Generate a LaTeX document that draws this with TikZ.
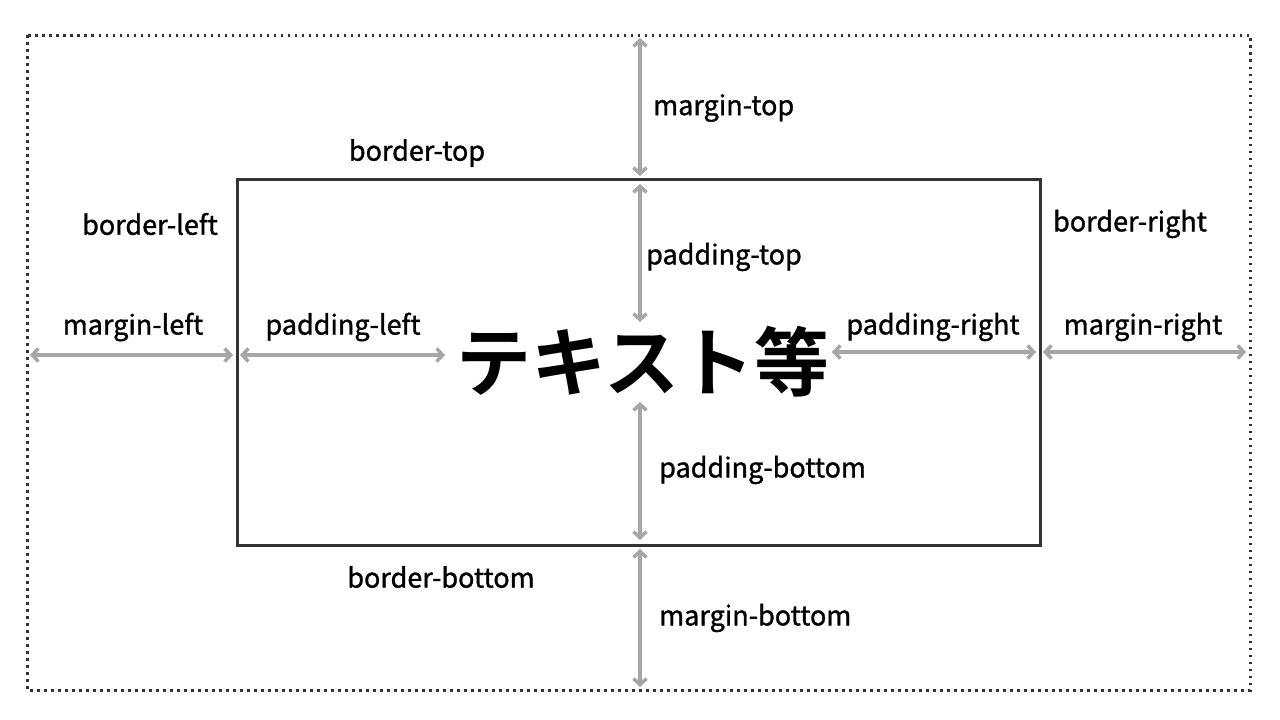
\documentclass[tikz,border=0pt]{standalone}
\usepackage{fontspec}
\setmainfont{Noto Sans}
\newfontfamily\cjk{Noto Sans CJK JP}[BoldFont={* Bold}]
\newfontfamily\labf{Noto Sans CJK JP}[FakeBold=1.2]
\usetikzlibrary{arrows.meta}
\definecolor{arr}{HTML}{A6A6A6}
\definecolor{bord}{HTML}{333333}
\begin{document}
\begin{tikzpicture}[x=1pt,y=-1pt,
  lab/.style={font=\fontsize{27}{30}\selectfont\labf, text=black, inner sep=0},
  dim/.style={arr, line width=3.5pt, {Straight Barb[length=6pt,width=13pt,line width=3.5pt]}-{Straight Barb[length=6pt,width=13pt,line width=3.5pt]}}]
\useasboundingbox (0,0) rectangle (1280,720);
\draw[bord, line width=3pt, dash pattern=on 2.5pt off 4.5pt] (27,35) rectangle (1250,690);
\draw[bord, line width=3pt] (237,179) rectangle (1040,545);
\node[font=\fontsize{75}{78}\selectfont\cjk\bfseries, inner sep=0] (txt) at (643,362) {テキスト等};
\foreach \n/\x/\y in {mt1/640/38, mt2/640/176, pt1/640/184, pt2/640/322, pb1/640/402, pb2/640/540, mb1/640/549, mb2/640/687,
  ml1/30/355, ml2/233/355, pl1/240/355, pl2/445/355, pr1/832/352, pr2/1036/352, mr1/1043/352, mr2/1246/352}
  \coordinate (\n) at (\x,\y);
\foreach \a/\b in {mt1/mt2, pt1/pt2, pb1/pb2, mb1/mb2, ml1/ml2, pl1/pl2, pr1/pr2, mr1/mr2}
  \draw[dim] (\a) -- (\b);
\node[lab, anchor=west] (l1) at (653,108) {margin-top};
\node[lab] (l2) at (417,153) {border-top};
\node[lab] (l3) at (150,224) {border-left};
\node[lab] (l4) at (1130,224) {border-right};
\node[lab] (l5) at (133,327) {margin-left};
\node[lab] (l6) at (343,327) {padding-left};
\node[lab] (l7) at (933,327) {padding-right};
\node[lab] (l8) at (1143,327) {margin-right};
\node[lab, anchor=west] (l9) at (646,257) {padding-top};
\node[lab, anchor=west] (l10) at (659,470) {padding-bottom};
\node[lab] (l11) at (441,577) {border-bottom};
\node[lab, anchor=west] (l12) at (659,618) {margin-bottom};
\end{tikzpicture}
\end{document}
